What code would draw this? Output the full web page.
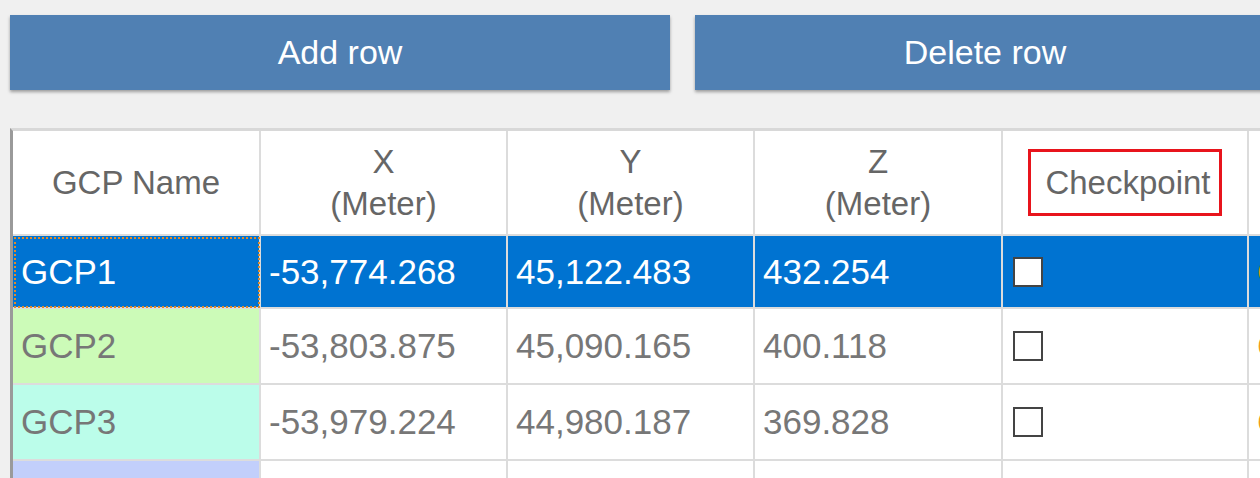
<!DOCTYPE html>
<html>
<head>
<meta charset="utf-8">
<script src="https://cdn.jsdelivr.net/npm/chart.js@4"></script>
<style>
body { margin:0; width:1260px; height:478px; overflow:hidden; background:#f0f0f0; font-family:"Liberation Sans", Arial, sans-serif; position:relative; }
.btn { position:absolute; top:15px; height:75px; background:#5080b3; color:#fff; font-size:34px; display:flex; align-items:center; justify-content:center; box-shadow:0 2px 3px rgba(0,0,0,0.35); }
#grid { position:absolute; left:10px; top:128px; width:1260px; height:360px; background:#fff; border-left:3px solid #9a9a9a; border-top:3px solid #d8d8d8; }
.cell { position:absolute; box-sizing:border-box; border-right:2px solid #dcdcdc; border-bottom:2px solid #dcdcdc; font-size:35px; color:#777; display:flex; align-items:center; padding-left:8px; white-space:nowrap; overflow:hidden; }
.hd { justify-content:center; text-align:center; padding-left:0; color:#666; font-size:33px; line-height:1.25; }
.sel { background:#0073d1; color:#fff; }
.box { width:30px; height:30px; border:2px solid #444; background:#fff; box-sizing:border-box; margin-left:2px; }
</style>
</head>
<body>
<div class="btn" style="left:10px;width:660px">Add row</div>
<div class="btn" style="left:695px;width:580px">Delete row</div>
<div id="grid"></div>
<script>
const headers = ["GCP Name", "X<br>(Meter)", "Y<br>(Meter)", "Z<br>(Meter)", "Checkpoint", "C"];
const names = ["GCP1", "GCP2", "GCP3", ""];
const xValues = ["-53,774.268", "-53,803.875", "-53,979.224", ""];
const yValues = ["45,122.483", "45,090.165", "44,980.187", ""];
const zValues = ["432.254", "400.118", "369.828", ""];
const nameColors = ["#0073d1", "#ccfbb8", "#bbfdea", "#c2cffb"];

const colX = [0, 248, 495, 742, 990, 1236, 1400];
const rowY = [0, 105, 178, 254, 330, 420];
const grid = document.getElementById('grid');

function cell(c, r, html, cls, bg) {
    const d = document.createElement('div');
    d.className = 'cell ' + (cls || '');
    d.style.left = colX[c] + 'px';
    d.style.top = rowY[r] + 'px';
    d.style.width = (colX[c + 1] - colX[c]) + 'px';
    d.style.height = (rowY[r + 1] - rowY[r]) + 'px';
    if (bg) d.style.background = bg;
    d.innerHTML = html;
    grid.appendChild(d);
    return d;
}

headers.forEach((h, i) => {
    cell(i, 0, i === 4 ? '<span style="border:3px solid #e8141c;padding:10px 8px 10px 14px">' + h + '</span>' : h, 'hd');
});

names.forEach((n, r) => {
    const sel = r === 0;
    const nm = cell(0, r + 1, n, sel ? 'sel' : '', sel ? null : nameColors[r]);
    if (sel) nm.style.outline = '2px dotted #e08a2a', nm.style.outlineOffset = '-3px';
    cell(1, r + 1, xValues[r], sel ? 'sel' : '');
    cell(2, r + 1, yValues[r], sel ? 'sel' : '');
    cell(3, r + 1, zValues[r], sel ? 'sel' : '');
    cell(4, r + 1, n ? '<div class="box"></div>' : '', sel ? 'sel' : '');
    const last = cell(5, r + 1, n ? 'C' : '', sel ? 'sel' : '');
    last.style.color = '#f39a1e';
});
</script>
</body>
</html>
